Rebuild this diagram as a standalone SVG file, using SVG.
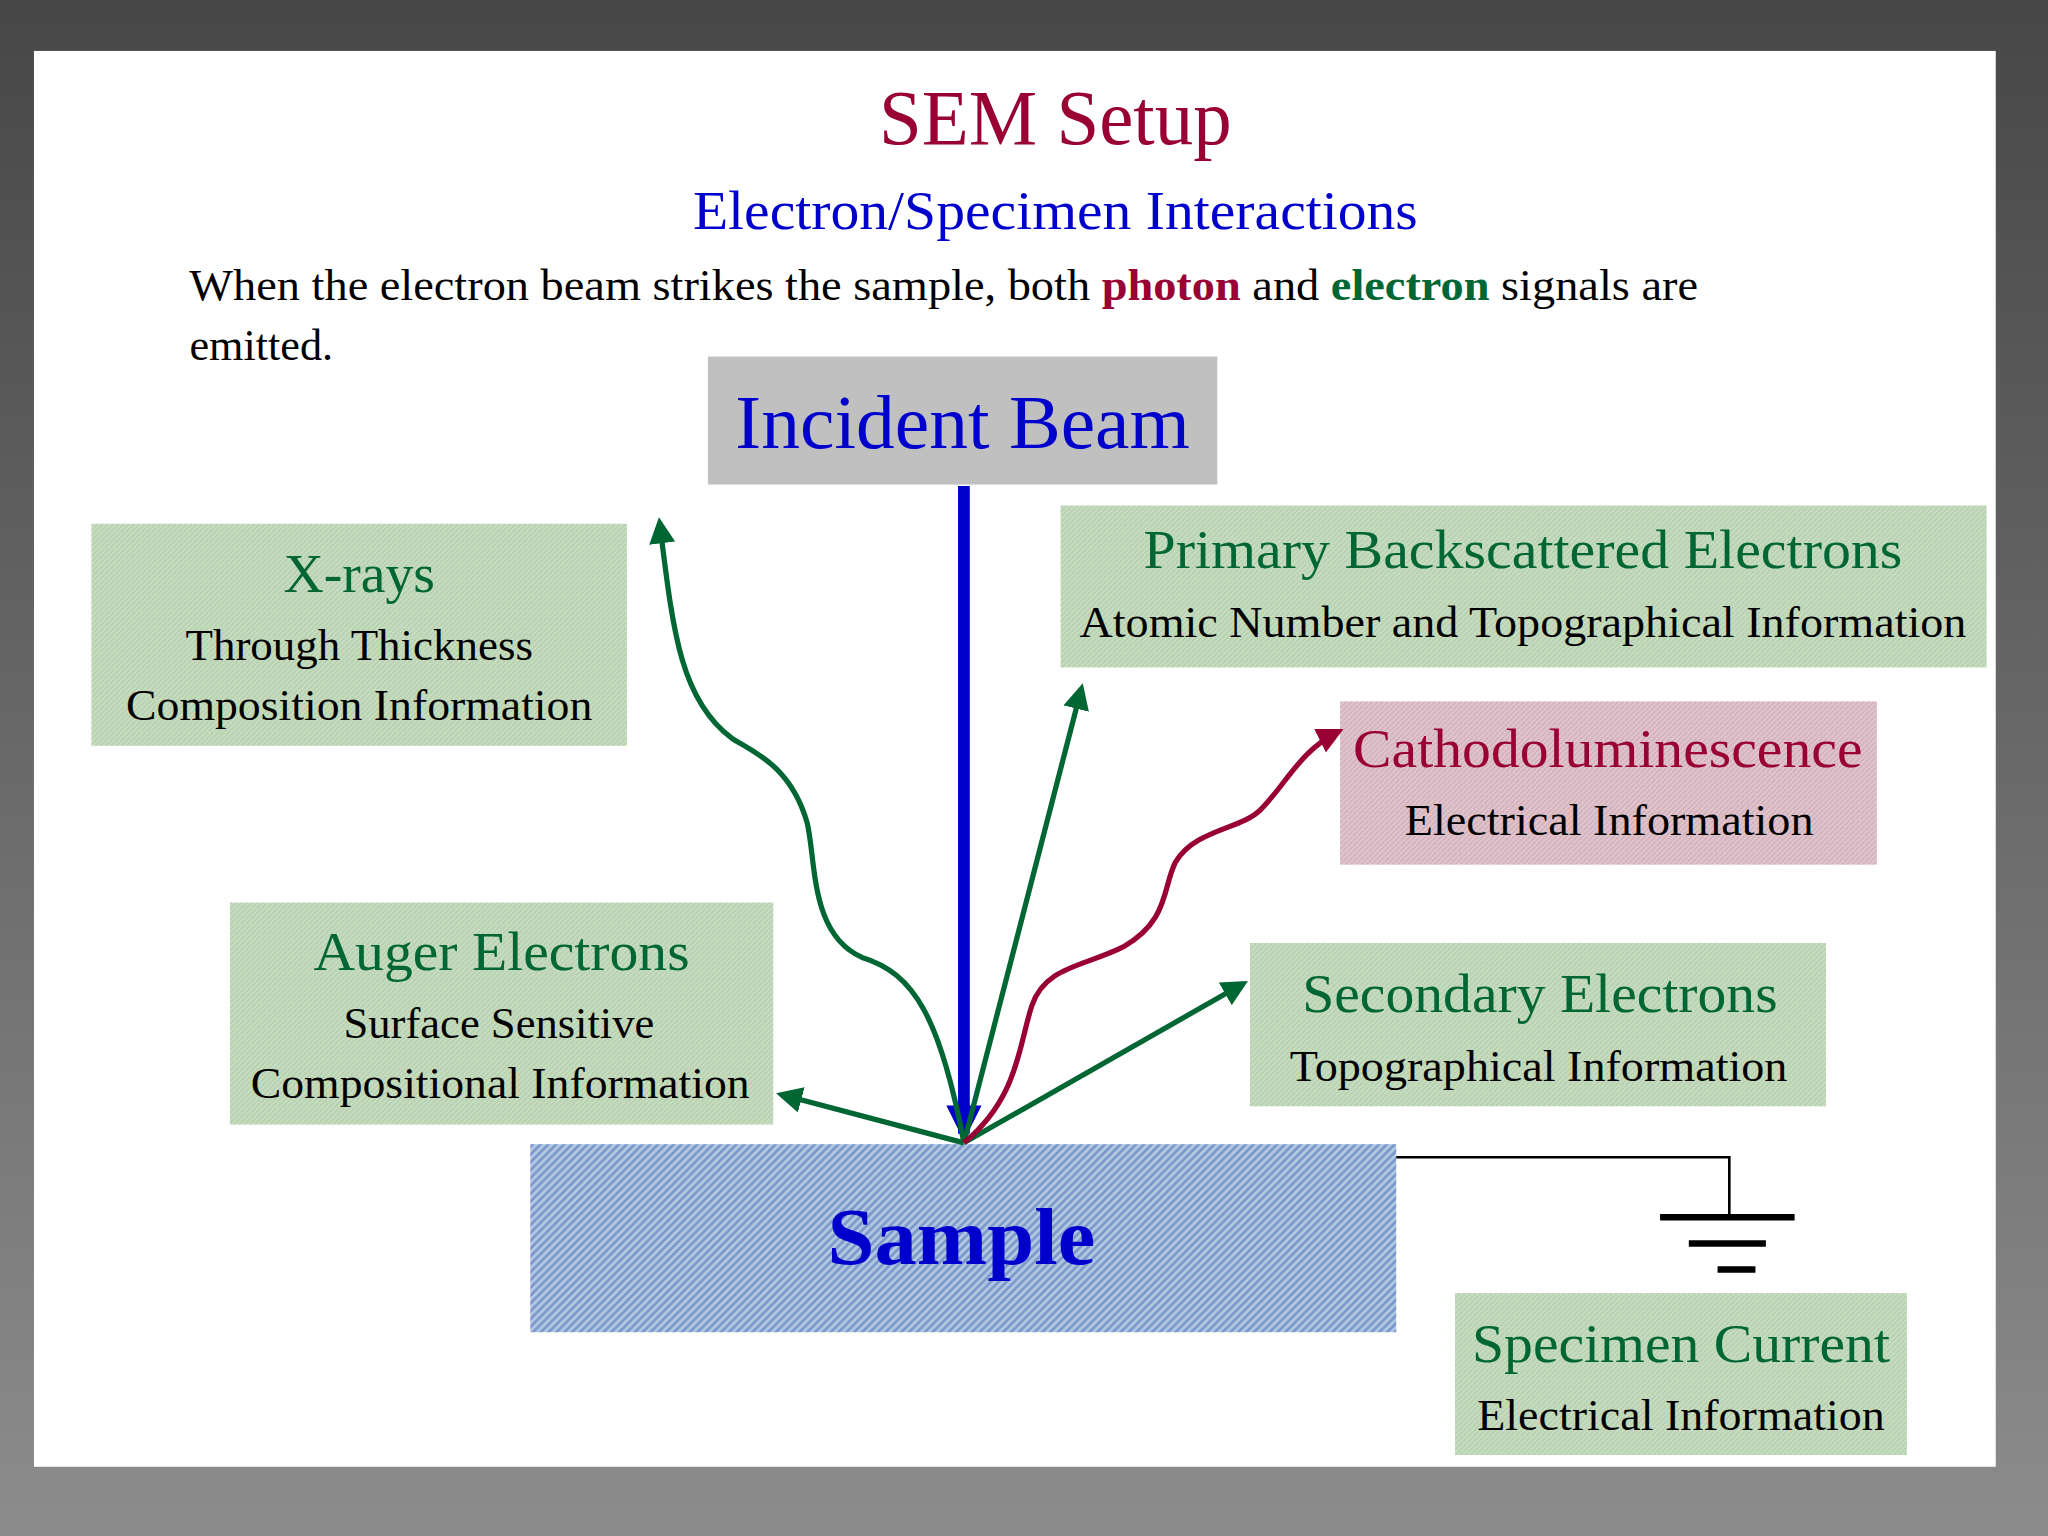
<svg xmlns="http://www.w3.org/2000/svg" width="2048" height="1536" viewBox="0 0 2048 1536">
<defs>
<linearGradient id="bg" x1="0" y1="0" x2="0" y2="1"><stop offset="0" stop-color="#474747"/><stop offset="1" stop-color="#8c8c8c"/></linearGradient>
<pattern id="gh" width="4" height="4" patternUnits="userSpaceOnUse"><rect width="4" height="4" fill="#c6dcc0"/><path d="M0,4L4,0" stroke="#b2cca8" stroke-width="1"/></pattern>
<pattern id="ph" width="4" height="4" patternUnits="userSpaceOnUse"><rect width="4" height="4" fill="#e0c4cc"/><path d="M0,4L4,0" stroke="#cfaab6" stroke-width="1"/></pattern>
<pattern id="bh" width="6" height="6" patternUnits="userSpaceOnUse"><rect width="6" height="6" fill="#b4c8e4"/><path d="M0,6L6,0M-1,1L1,-1M5,7L7,5" stroke="#7896c8" stroke-width="2"/></pattern>
<marker id="ag" viewBox="0 0 10 10" refX="8" refY="5" markerWidth="5" markerHeight="5" orient="auto" markerUnits="strokeWidth"><path d="M0,0L10,5L0,10Z" fill="#006633"/></marker>
<marker id="ar" viewBox="0 0 10 10" refX="8" refY="5" markerWidth="5" markerHeight="5" orient="auto" markerUnits="strokeWidth"><path d="M0,0L10,5L0,10Z" fill="#990033"/></marker>
<marker id="ab" viewBox="0 0 10 10" refX="8" refY="5" markerWidth="5" markerHeight="3" orient="auto" markerUnits="strokeWidth"><path d="M0,0L10,5L0,10Z" fill="#0000cc"/></marker>
</defs>
<style>
text{font-family:"Liberation Serif","Times New Roman",serif;text-anchor:middle}
.h{fill:#006633;font-size:42px}
.t{fill:#000;font-size:34px}
.g{fill:url(#gh)}
.c{fill:none;stroke:#006633;stroke-width:4;marker-end:url(#ag)}
</style>
<rect width="2048" height="1536" fill="url(#bg)"/>
<g transform="scale(1.30612)">
<rect x="26" y="39" width="1502" height="1084" fill="#fff"/>
<text x="808" y="110" font-size="60" fill="#990033" textLength="270" lengthAdjust="spacingAndGlyphs">SEM Setup</text>
<text x="808" y="175" font-size="42" fill="#0000cc" textLength="555" lengthAdjust="spacingAndGlyphs">Electron/Specimen Interactions</text>
<text x="145" y="230" font-size="34" style="text-anchor:start" textLength="1155" lengthAdjust="spacingAndGlyphs">When the electron beam strikes the sample, both <tspan fill="#990033" font-weight="bold">photon</tspan> and <tspan fill="#006633" font-weight="bold">electron</tspan> signals are</text>
<text x="145" y="276" font-size="34" style="text-anchor:start" textLength="110" lengthAdjust="spacingAndGlyphs">emitted.</text>
<g id="incident"><rect x="542" y="273" width="390" height="98" fill="#c0c0c0"/><text x="737" y="343" font-size="58" fill="#0000cc" textLength="348" lengthAdjust="spacingAndGlyphs">Incident Beam</text></g>
<g id="xrays"><rect class="g" x="70" y="401" width="410" height="170"/><text class="h" x="275" y="453" textLength="116" lengthAdjust="spacingAndGlyphs">X-rays</text><text class="t" x="275" y="505" textLength="266" lengthAdjust="spacingAndGlyphs">Through Thickness</text><text class="t" x="275" y="551" textLength="357" lengthAdjust="spacingAndGlyphs">Composition Information</text></g>
<g id="pbe"><rect class="g" x="812" y="387" width="709" height="124"/><text class="h" x="1166" y="435" textLength="581" lengthAdjust="spacingAndGlyphs">Primary Backscattered Electrons</text><text class="t" x="1166" y="488" textLength="679" lengthAdjust="spacingAndGlyphs">Atomic Number and Topographical Information</text></g>
<g id="cl"><rect fill="url(#ph)" x="1026" y="537" width="411" height="125"/><text class="h" x="1231" y="587" style="fill:#990033" textLength="390" lengthAdjust="spacingAndGlyphs">Cathodoluminescence</text><text class="t" x="1232" y="639" textLength="313" lengthAdjust="spacingAndGlyphs">Electrical Information</text></g>
<g id="auger"><rect class="g" x="176" y="691" width="416" height="170"/><text class="h" x="384" y="743" textLength="288" lengthAdjust="spacingAndGlyphs">Auger Electrons</text><text class="t" x="382" y="795" textLength="238" lengthAdjust="spacingAndGlyphs">Surface Sensitive</text><text class="t" x="383" y="841" textLength="382" lengthAdjust="spacingAndGlyphs">Compositional Information</text></g>
<g id="se"><rect class="g" x="957" y="722" width="441" height="125"/><text class="h" x="1179" y="775" textLength="364" lengthAdjust="spacingAndGlyphs">Secondary Electrons</text><text class="t" x="1178" y="828" textLength="381" lengthAdjust="spacingAndGlyphs">Topographical Information</text></g>
<g id="sample"><rect fill="url(#bh)" x="406" y="876" width="663" height="144"/><text x="736" y="968" font-size="62" font-weight="bold" fill="#0000cc" textLength="205" lengthAdjust="spacingAndGlyphs">Sample</text></g>
<g id="ground" stroke="#000"><path d="M1069,886H1324V932" fill="none" stroke-width="2"/><path d="M1271,932H1374" stroke-width="5"/><path d="M1293,952H1352" stroke-width="5"/><path d="M1315,972H1344" stroke-width="5"/></g>
<g id="current"><rect class="g" x="1114" y="990" width="346" height="124"/><text class="h" x="1287" y="1043" textLength="320" lengthAdjust="spacingAndGlyphs">Specimen Current</text><text class="t" x="1287" y="1095" textLength="312" lengthAdjust="spacingAndGlyphs">Electrical Information</text></g>
<g id="connectors">
<path d="M738,372V868" stroke="#0000cc" stroke-width="9" fill="none" marker-end="url(#ab)"/>
<path class="c" d="M738,875C720,780 700,745 660,733C620,715 625,660 618,630C605,585 575,575 560,565C520,535 515,480 505,400"/>
<path class="c" d="M738,875L828,527"/>
<path class="c" d="M738,875L952,753"/>
<path class="c" d="M738,875L598,838"/>
<path d="M738,875C780,840 780,800 790,770C800,740 830,740 860,725C895,705 890,680 900,660C915,635 950,635 965,620C985,600 995,575 1025,560" fill="none" stroke="#990033" stroke-width="4" marker-end="url(#ar)"/>
</g>
</g>
</svg>
